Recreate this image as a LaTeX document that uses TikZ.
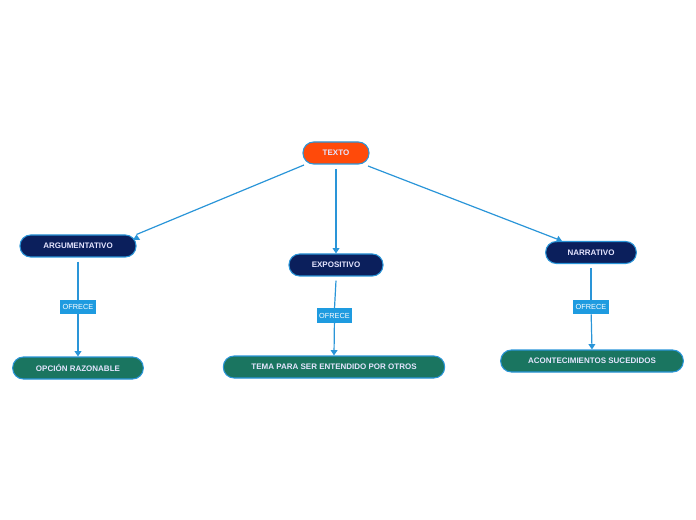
\documentclass[tikz,border=0pt]{standalone}
\usepackage{fontspec}
\setmainfont{Liberation Sans}
\usetikzlibrary{arrows.meta}
\definecolor{edge}{HTML}{2A95D8}
\definecolor{navy}{HTML}{0B1F5C}
\definecolor{teal}{HTML}{1A7560}
\definecolor{orng}{HTML}{FF4A0A}
\definecolor{lbl}{HTML}{1E9BE0}
\begin{document}
\begin{tikzpicture}[x=0.75pt,y=-0.75pt,
 box/.style={rounded corners=8pt,draw=edge,line width=0.8pt,text=white!90!blue,font=\bfseries\fontsize{6}{7}\selectfont,minimum height=16.5pt,inner sep=0pt},
 lab/.style={fill=lbl,text=white,font=\fontsize{5.5}{6}\selectfont,minimum height=10.5pt,inner sep=2pt},
 con/.style={draw=edge,line width=0.9pt,-{Triangle[length=4pt,width=5pt]}},
 ln/.style={draw=edge,line width=0.9pt}]
\useasboundingbox (0,0) rectangle (696,520);
\node[box,fill=orng,minimum width=49.5pt] (t) at (336,153) {TEXTO};
\node[box,fill=navy,minimum width=87pt] (a) at (78,246) {ARGUMENTATIVO};
\node[box,fill=navy,minimum width=70.5pt] (e) at (336,265) {EXPOSITIVO};
\node[box,fill=navy,minimum width=68pt] (n) at (591,252.5) {NARRATIVO};
\node[box,fill=teal,minimum width=98pt] (a2) at (78,368) {OPCIÓN RAZONABLE};
\node[box,fill=teal,minimum width=166pt] (e2) at (334,367) {TEMA PARA SER ENTENDIDO POR OTROS};
\node[box,fill=teal,minimum width=137pt] (n2) at (592,361) {ACONTECIMIENTOS SUCEDIDOS};
\node[lab] (la) at (78,307) {OFRECE};
\node[lab] (le) at (334.5,315.5) {OFRECE};
\node[lab] (ln) at (591,307) {OFRECE};
\coordinate (t1) at (304,165); \coordinate (t2) at (336,169); \coordinate (t3) at (368,166);
\draw[con] (t1) -- (a.north east) ++(0,0);
\draw[con] (t2) -- (e.north);
\draw[con] (t3) -- (n.north -| 562,0);
\draw[ln] (a.south) ++(0,4) -- (la.north);
\draw[con] (la) -- (a2.north);
\draw[ln] (e.south) ++(0,4) -- (le.north);
\draw[con] (le) -- (e2.north);
\draw[ln] (n.south) ++(0,4) -- (ln.north);
\draw[con] (ln) -- (n2.north);
\end{tikzpicture}
\end{document}
